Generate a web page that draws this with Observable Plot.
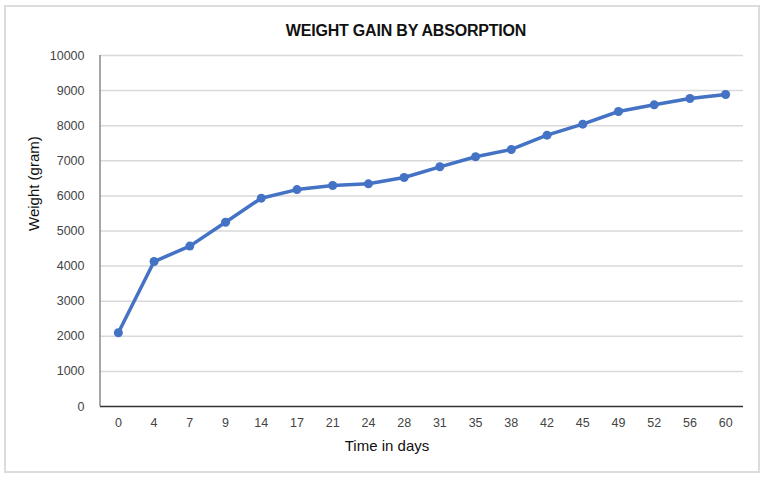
<!DOCTYPE html>
<html>
<head>
<meta charset="utf-8">
<script src="https://cdn.jsdelivr.net/npm/d3@7"></script>
<script src="https://cdn.jsdelivr.net/npm/@observablehq/plot@0.6"></script>
<style>
  body { margin: 0; background: #fff; font-family: "Liberation Sans", Arial, sans-serif; }
  #wrap { position: relative; width: 768px; height: 479px; overflow: hidden; }
  #frame { position: absolute; left: 4px; top: 5px; width: 756px; height: 468px; box-sizing: border-box; border: 2px solid #dcdcdc; }
  #title { position: absolute; left: 206px; width: 400px; top: 22px; text-align: center; font-weight: bold; font-size: 16px; color: #111; letter-spacing: -0.2px; }
  #chart { position: absolute; left: 0; top: 0; }
</style>
</head>
<body>
<div id="wrap">
  <div id="frame"></div>
  <div id="chart"></div>
  <div id="title">WEIGHT GAIN BY ABSORPTION</div>
</div>
<script>
const days = ["0","4","7","9","14","17","21","24","28","31","35","38","42","45","49","52","56","60"];
const weights = [2100, 4130, 4570, 5250, 5935, 6180, 6296, 6344, 6524, 6829, 7114, 7322, 7730, 8043, 8405, 8595, 8775, 8889];
const yTicks = [0,1000,2000,3000,4000,5000,6000,7000,8000,9000,10000];
const xLabel = "Time in days";
const yLabel = "Weight (gram)";

const data = days.map((d, i) => ({day: d, weight: weights[i]}));
const blue = "#4472c4";

// vertical axis line at the left edge of the frame, drawn from the y scale
function leftAxisLine(index, scales, values, dims) {
  const ns = "http://www.w3.org/2000/svg";
  const line = document.createElementNS(ns, "line");
  const x = dims.marginLeft;
  line.setAttribute("x1", x);
  line.setAttribute("x2", x);
  line.setAttribute("y1", scales.y(yTicks[yTicks.length - 1]));
  line.setAttribute("y2", scales.y(0));
  line.setAttribute("stroke", "#8a8a8a");
  line.setAttribute("stroke-width", 1.5);
  return line;
}

const chart = Plot.plot({
  width: 768,
  height: 479,
  marginTop: 55,
  marginBottom: 73,
  marginLeft: 100,
  marginRight: 25,
  style: {background: "transparent", fontFamily: "'Liberation Sans', Arial, sans-serif", fontSize: "12.5px", color: "#444"},
  x: {type: "point", domain: days, padding: 0.5, round: false, label: null},
  y: {domain: [0, 10000], label: null},
  marks: [
    Plot.gridY(yTicks.slice(1), {stroke: "#d9d9d9", strokeOpacity: 1, strokeWidth: 1.5}),
    Plot.axisY(yTicks, {tickSize: 0, tickPadding: 16, fill: "#444", label: null, tickFormat: d => String(d)}),
    Plot.axisX(days, {tickSize: 0, tickPadding: 12, fill: "#444", label: null}),
    leftAxisLine,
    Plot.ruleY([0], {stroke: "#333", strokeWidth: 1.5}),
    Plot.line(data, {x: "day", y: "weight", stroke: blue, strokeWidth: 3.5}),
    Plot.dot(data, {x: "day", y: "weight", fill: blue, r: 4.5}),
    Plot.text([xLabel], {frameAnchor: "bottom", dy: 44, dx: -35, fontSize: 15, fill: "#111", text: d => d}),
    Plot.text([yLabel], {frameAnchor: "left", dx: -66, rotate: -90, fontSize: 15, fill: "#111", text: d => d})
  ]
});
document.getElementById("chart").appendChild(chart);
</script>
</body>
</html>
